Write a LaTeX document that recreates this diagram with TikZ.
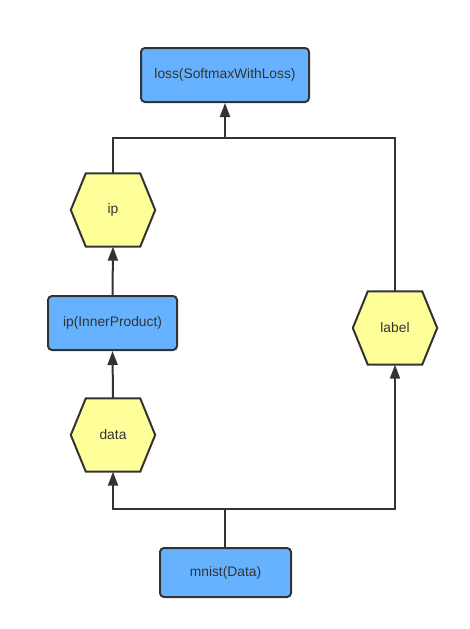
\documentclass[tikz,border=0pt]{standalone}
\usepackage{fontspec}
\setmainfont{Liberation Sans}
\usetikzlibrary{arrows.meta}
\pgfdeclarelayer{background}
\pgfsetlayers{background,main}
\definecolor{boxblue}{HTML}{66B2FF}
\definecolor{hexyellow}{HTML}{FFFF99}
\definecolor{ink}{HTML}{333333}
\tikzset{
  x=1pt, y=1pt,
  bluebox/.style={draw=ink, fill=boxblue, line width=2pt, rounded corners=4pt, text=ink, font=\fontsize{13.8}{16}\selectfont, inner sep=0pt},
  hexbox/.style={draw=none, minimum width=84pt, minimum height=73pt, inner sep=0pt, text=ink, font=\fontsize{13.8}{16}\selectfont},
  hexline/.style={draw=ink, fill=hexyellow, line width=2pt, line join=miter},
  conn/.style={draw=ink, line width=2pt},
  arr/.style={conn, -{Triangle[width=10pt,length=14pt]}},
}
\newcommand{\hexof}[1]{%
  \begin{pgfonlayer}{background}
  \path[hexline] ([xshift=15pt]#1.north west) -- ([xshift=-15pt]#1.north east) -- (#1.east) -- ([xshift=-15pt]#1.south east) -- ([xshift=15pt]#1.south west) -- (#1.west) -- cycle;
  \end{pgfonlayer}}
\begin{document}
\begin{tikzpicture}
\useasboundingbox (0,0) rectangle (469,-629);
\node[bluebox, minimum width=168pt, minimum height=54pt] (loss) at (225,-75) {loss(SoftmaxWithLoss)};
\node[hexbox] (ip) at (113,-210) {ip};
\hexof{ip}
\node[bluebox, minimum width=129pt, minimum height=54pt] (ipbox) at (112.5,-323) {ip(InnerProduct)};
\node[hexbox] (data) at (113,-435) {data};
\hexof{data}
\node[hexbox] (label) at (395,-328) {label};
\hexof{label}
\node[bluebox, minimum width=131pt, minimum height=49pt] (mnist) at (225.5,-572.5) {mnist(Data)};
\coordinate (jtop) at (225,-138);
\coordinate (jbot) at (225,-509);
\draw[arr] (ip.north) |- (jtop) -- (loss.south);
\draw[conn] (label.north) |- (jtop);
\draw[arr] (ipbox.north) -- (ip.south);
\draw[arr] (data.north) -- (ipbox.south);
\draw[conn] (mnist.north -| jbot) -- (jbot);
\draw[arr] (jbot) -| (data.south);
\draw[arr] (jbot) -| (label.south);
\end{tikzpicture}
\end{document}
